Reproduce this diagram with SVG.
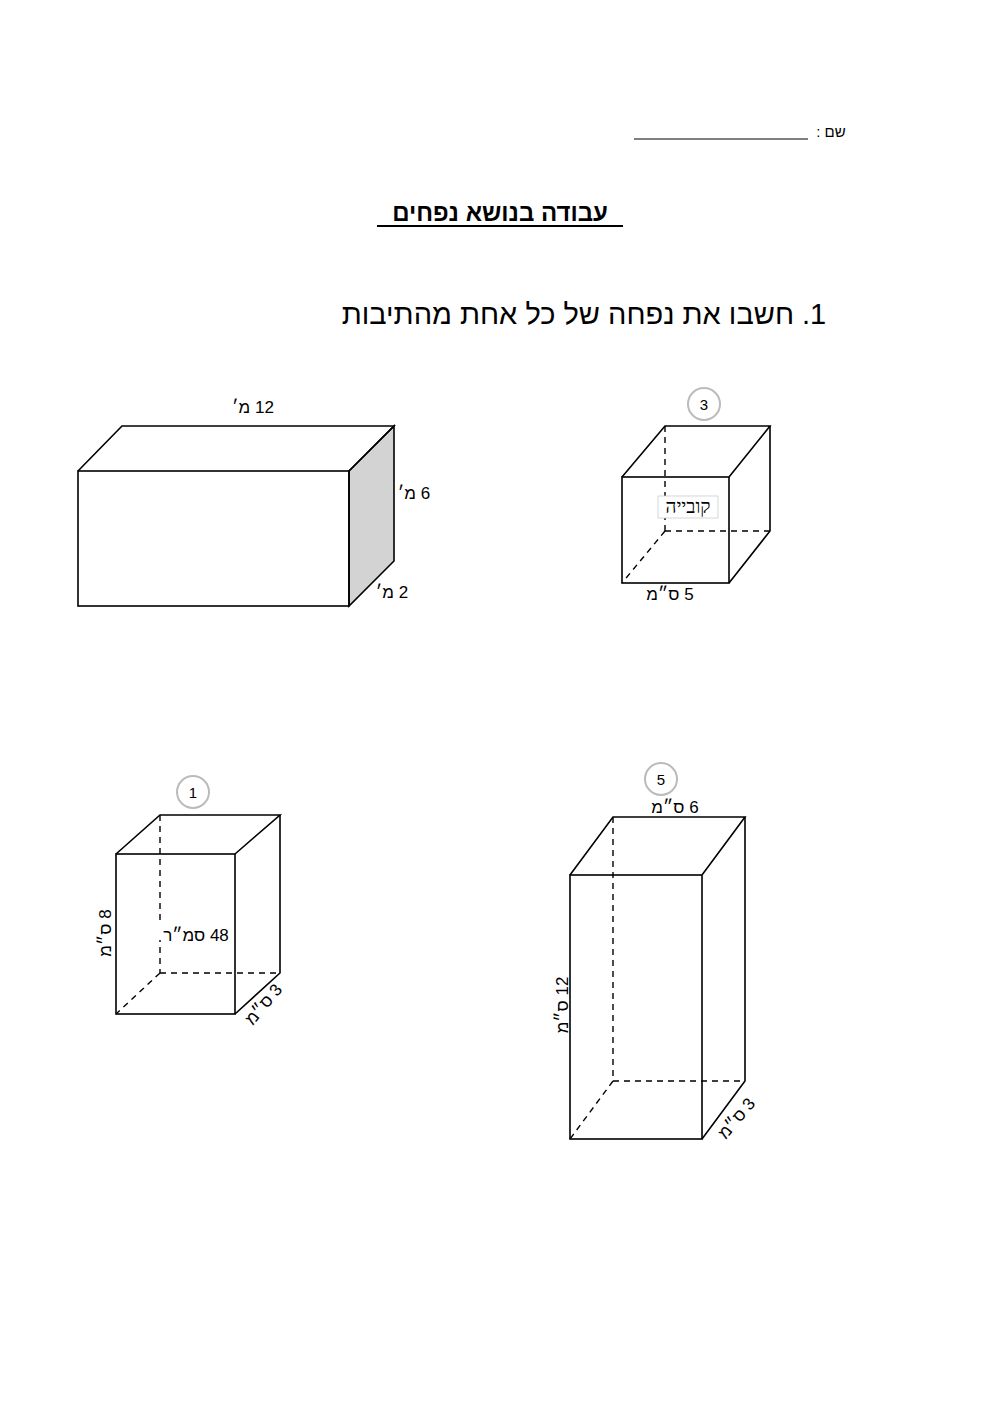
<svg xmlns="http://www.w3.org/2000/svg" width="1000" height="1413" viewBox="0 0 1000 1413">
<style>
.e{fill:none;stroke:#000;stroke-width:1.6}
.d{fill:none;stroke:#000;stroke-width:1.4;stroke-dasharray:6 5}
.t{font-family:"Liberation Sans","DejaVu Sans",sans-serif;font-size:17px;fill:#000;direction:rtl;text-anchor:middle}
.c{fill:#fff;stroke:#bbb;stroke-width:2}
</style>
<rect width="1000" height="1413" fill="#fff"/>
<g id="header">
<text class="t" x="831" y="137" style="font-size:15px">שם :</text>
<line x1="634" y1="139" x2="808" y2="139" stroke="#000" stroke-width="1"/>
<text class="t" x="500" y="221" style="font-size:24px;font-weight:bold">עבודה בנושא נפחים</text>
<line x1="377" y1="226" x2="623" y2="226" stroke="#000" stroke-width="2"/>
<text class="t" x="584" y="324" style="font-size:29px">1. חשבו את נפחה של כל אחת מהתיבות</text>
</g>
<g id="box-a">
<polygon points="349,471 394,426 394,561 349,606" fill="#d3d3d3" stroke="#000" stroke-width="1.6"/>
<polyline class="e" points="78,471 122,426 394,426 349,471"/>
<rect class="e" x="78" y="471" width="271" height="135"/>
<text class="t" x="253" y="413">12 מ׳</text>
<text class="t" x="414" y="499">6 מ׳</text>
<text class="t" x="392" y="598">2 מ׳</text>
</g>
<g id="box-3">
<circle class="c" cx="704" cy="404" r="16"/>
<text class="t" x="704" y="410" style="font-size:15px">3</text>
<line class="d" x1="665" y1="426" x2="665" y2="531"/>
<line class="d" x1="665" y1="531" x2="770" y2="531"/>
<line class="d" x1="665" y1="531" x2="622" y2="583"/>
<polyline class="e" points="622,477 665,426 770,426 729,477"/>
<polyline class="e" points="770,426 770,531 729,583"/>
<rect class="e" x="622" y="477" width="107" height="106"/>
<rect x="658" y="496" width="60" height="22" fill="#fff" stroke="#ccc" stroke-width="0.8"/>
<text class="t" x="688" y="513" style="font-size:19px;font-family:'Liberation Serif','DejaVu Serif',serif">קובייה</text>
<text class="t" x="670" y="600">5 ס״מ</text>
</g>
<g id="box-1">
<circle class="c" cx="193" cy="792" r="16"/>
<text class="t" x="193" y="798" style="font-size:15px">1</text>
<line class="d" x1="160" y1="815" x2="160" y2="973"/>
<line class="d" x1="160" y1="973" x2="280" y2="973"/>
<line class="d" x1="160" y1="973" x2="116" y2="1014"/>
<polyline class="e" points="116,854 160,815 280,815 235,854"/>
<polyline class="e" points="280,815 280,973 235,1014"/>
<rect class="e" x="116" y="854" width="119" height="160"/>
<rect x="158" y="922" width="4" height="18" fill="#fff"/>
<text class="t" x="196" y="941">48 סמ״ר</text>
<text class="t" transform="translate(111,933) rotate(-90)">8 ס״מ</text>
<text class="t" transform="translate(268,1008) rotate(-50)">3 ס״מ</text>
</g>
<g id="box-5">
<circle class="c" cx="661" cy="779" r="16"/>
<text class="t" x="661" y="785" style="font-size:15px">5</text>
<text class="t" x="675" y="813">6 ס״מ</text>
<line class="d" x1="613" y1="817" x2="613" y2="1081"/>
<line class="d" x1="613" y1="1081" x2="745" y2="1081"/>
<line class="d" x1="613" y1="1081" x2="570" y2="1139"/>
<polyline class="e" points="570,875 613,817 745,817 702,875"/>
<polyline class="e" points="745,817 745,1081 702,1139"/>
<rect class="e" x="570" y="875" width="132" height="264"/>
<text class="t" transform="translate(568,1005) rotate(-90)">12 ס״מ</text>
<text class="t" transform="translate(741,1122) rotate(-50)">3 ס״מ</text>
</g>
</svg>
